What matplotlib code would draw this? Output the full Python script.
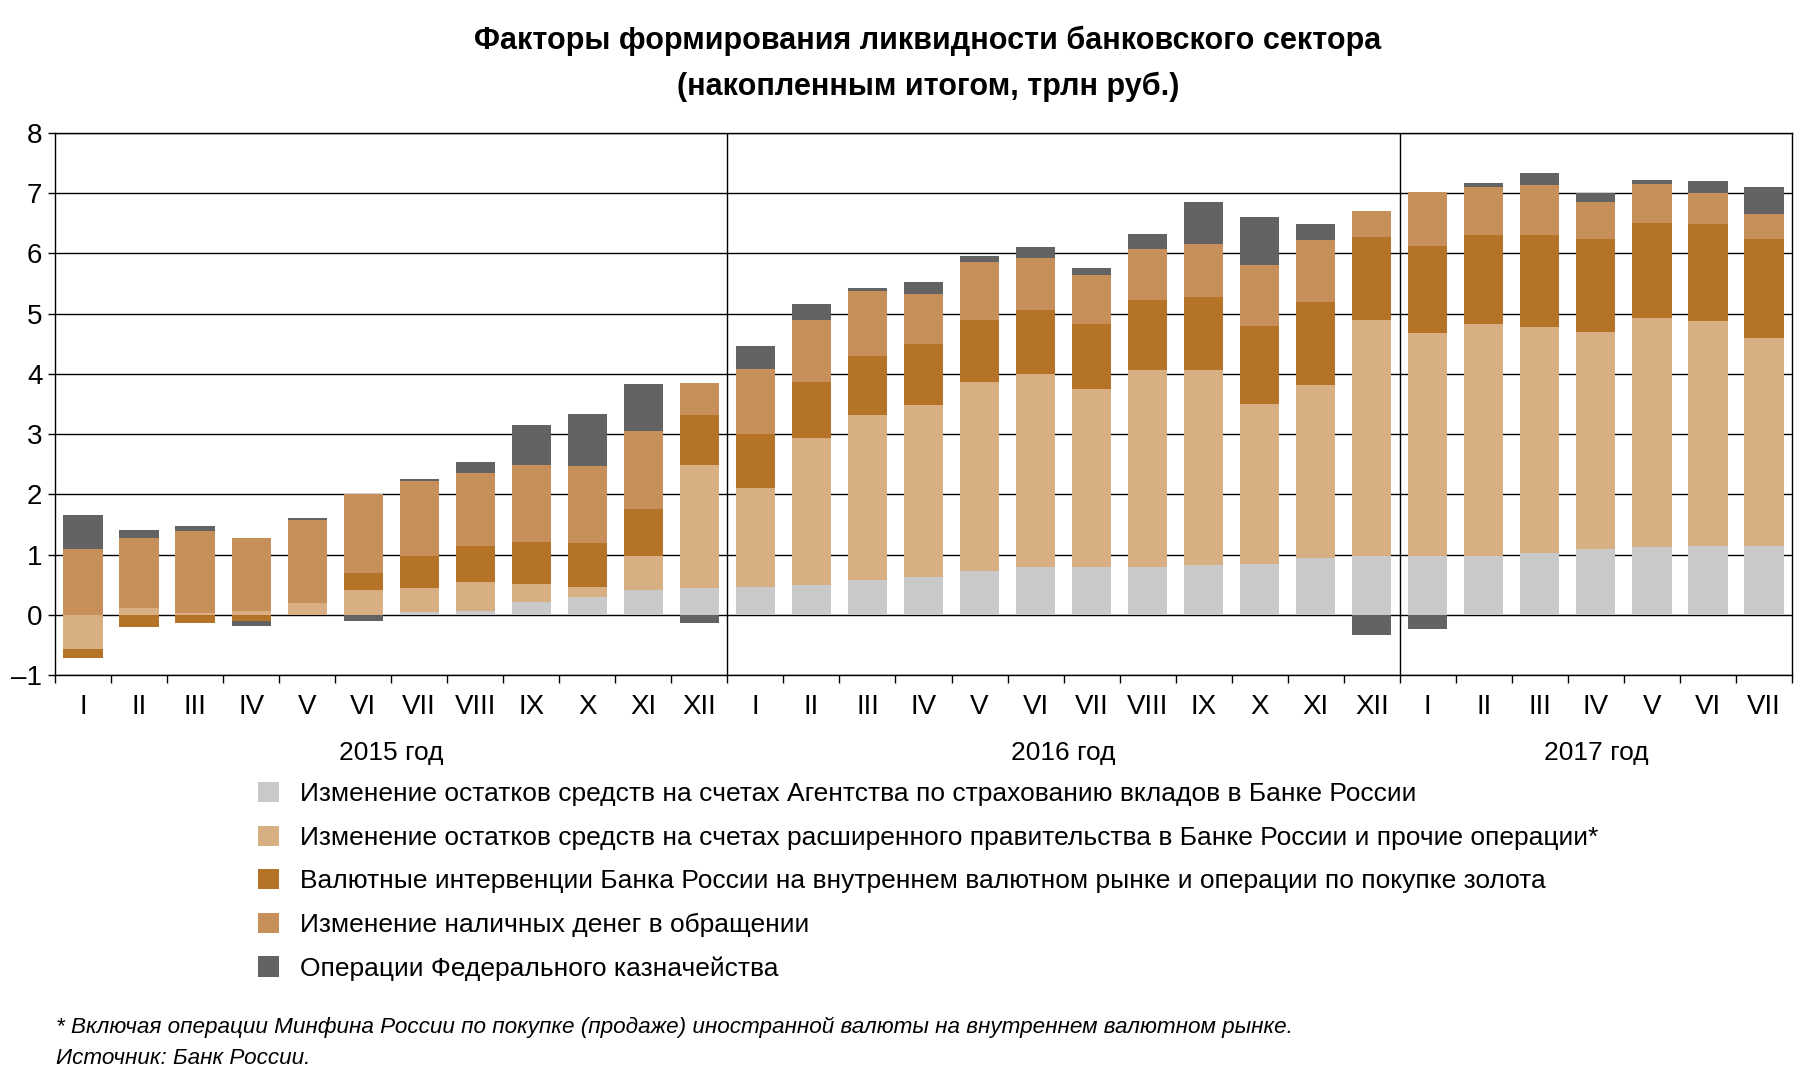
import numpy as np
import matplotlib.pyplot as plt

# months: 2015 I-XII, 2016 I-XII, 2017 I-VII
months = ['I', 'II', 'III', 'IV', 'V', 'VI', 'VII', 'VIII', 'IX', 'X', 'XI', 'XII'] * 2 + \
         ['I', 'II', 'III', 'IV', 'V', 'VI', 'VII']
years = ['2015 год', '2016 год', '2017 год']
year_lengths = [12, 12, 7]

# cumulative factors, trln rub
asv = [0, 0, 0, 0, 0, 0, 0.04, 0.06, 0.22, 0.29, 0.41, 0.44,
       0.46, 0.49, 0.57, 0.62, 0.73, 0.79, 0.79, 0.79, 0.82, 0.85, 0.94, 0.98,
       0.98, 0.98, 1.03, 1.10, 1.13, 1.15, 1.15]
gov = [-0.57, 0.12, 0.03, 0.06, 0.19, 0.41, 0.40, 0.48, 0.29, 0.17, 0.57, 2.04,
       1.64, 2.45, 2.75, 2.86, 3.14, 3.20, 2.96, 3.28, 3.25, 2.65, 2.87, 3.92,
       3.70, 3.85, 3.75, 3.60, 3.79, 3.72, 3.44]
fx = [-0.15, -0.21, -0.13, -0.10, 0.01, 0.29, 0.54, 0.61, 0.70, 0.73, 0.78, 0.83,
      0.90, 0.93, 0.97, 1.02, 1.02, 1.07, 1.08, 1.15, 1.20, 1.30, 1.38, 1.38,
      1.45, 1.48, 1.53, 1.54, 1.59, 1.62, 1.65]
cash = [1.09, 1.15, 1.36, 1.22, 1.38, 1.31, 1.24, 1.21, 1.28, 1.28, 1.29, 0.54,
        1.08, 1.02, 1.08, 0.83, 0.96, 0.87, 0.82, 0.86, 0.88, 1.00, 1.04, 0.43,
        0.89, 0.80, 0.83, 0.61, 0.64, 0.52, 0.41]
treasury = [0.56, 0.13, 0.08, -0.09, 0.02, -0.11, 0.03, 0.18, 0.66, 0.87, 0.78, -0.14,
            0.39, 0.27, 0.05, 0.20, 0.10, 0.17, 0.11, 0.25, 0.70, 0.80, 0.26, -0.34,
            -0.24, 0.06, 0.19, 0.15, 0.07, 0.20, 0.45]

labels = [
    'Изменение остатков средств на счетах Агентства по страхованию вкладов в Банке России',
    'Изменение остатков средств на счетах расширенного правительства в Банке России и прочие операции*',
    'Валютные интервенции Банка России на внутреннем валютном рынке и операции по покупке золота',
    'Изменение наличных денег в обращении',
    'Операции Федерального казначейства',
]
colors = ['#C9C9C9', '#D8AE83', '#B57328', '#C78F5A', '#626362']

plt.rcParams['font.family'] = ['Liberation Sans', 'DejaVu Sans']

fig = plt.figure(figsize=(18.15, 10.90), dpi=100)
ax = fig.add_axes([55 / 1815, 1 - 675 / 1090, (1792 - 55) / 1815, (675 - 133) / 1090])

x = np.arange(len(months))
pos_bottom = np.zeros(len(x))
neg_bottom = np.zeros(len(x))
for series, color, label in zip([asv, gov, fx, cash, treasury], colors, labels):
    v = np.array(series, dtype=float)
    bottom = np.where(v >= 0, pos_bottom, neg_bottom)
    ax.bar(x, v, width=0.7, bottom=bottom, color=color, label=label, zorder=3, linewidth=0)
    pos_bottom += np.where(v >= 0, v, 0)
    neg_bottom += np.where(v < 0, v, 0)

ax.set_xlim(-0.5, len(x) - 0.5)
ax.set_ylim(-1, 8)
ax.set_yticks(range(-1, 9))
ax.set_yticklabels(['\u20131'] + [str(i) for i in range(0, 9)])
ax.grid(axis='y', color='black', linewidth=1.0, zorder=1)

# year separators
edge = -0.5
for n in year_lengths[:-1]:
    edge += n
    ax.axvline(edge, color='black', linewidth=1.0, zorder=2)

ax.set_xticks(x)
ax.set_xticklabels(months)
ax.set_xticks(np.arange(-0.5, len(x)), minor=True)
ax.tick_params(axis='x', which='major', length=0, pad=14, labelsize=20)
ax.tick_params(axis='x', which='minor', length=6, width=1, direction='out')
ax.tick_params(axis='y', length=5, width=1, direction='out', labelsize=20, pad=4)
for s in ax.spines.values():
    s.set_color('black')
    s.set_linewidth(1.0)

# year labels under each block of months
start = 0
for yr, n in zip(years, year_lengths):
    center = start + (n - 1) / 2
    ax.text(center, -2.3, yr, ha='center', va='center', fontsize=19, clip_on=False)
    start += n

fig.text(928 / 1815, 1 - 41 / 1090, 'Факторы формирования ликвидности банковского сектора',
         ha='center', va='center', fontsize=22, fontweight='bold')
fig.text(928 / 1815, 1 - 87 / 1090, '(накопленным итогом, трлн руб.)',
         ha='center', va='center', fontsize=22, fontweight='bold')

# legend
handles, lbls = ax.get_legend_handles_labels()
fig.legend(handles, lbls, loc='upper left', bbox_to_anchor=(258 / 1815, 1 - 782 / 1090),
           frameon=False, fontsize=19, handlelength=0.8, handleheight=0.8,
           handletextpad=0.8, labelspacing=0.73, borderaxespad=0, borderpad=0)

fig.text(56 / 1815, 1 - 1027 / 1090,
         '* Включая операции Минфина России по покупке (продаже) иностранной валюты на внутреннем валютном рынке.',
         ha='left', va='center', fontsize=16.2, style='italic')
fig.text(56 / 1815, 1 - 1058 / 1090, 'Источник: Банк России.',
         ha='left', va='center', fontsize=16.2, style='italic')

fig.savefig('out.png', dpi=100)
